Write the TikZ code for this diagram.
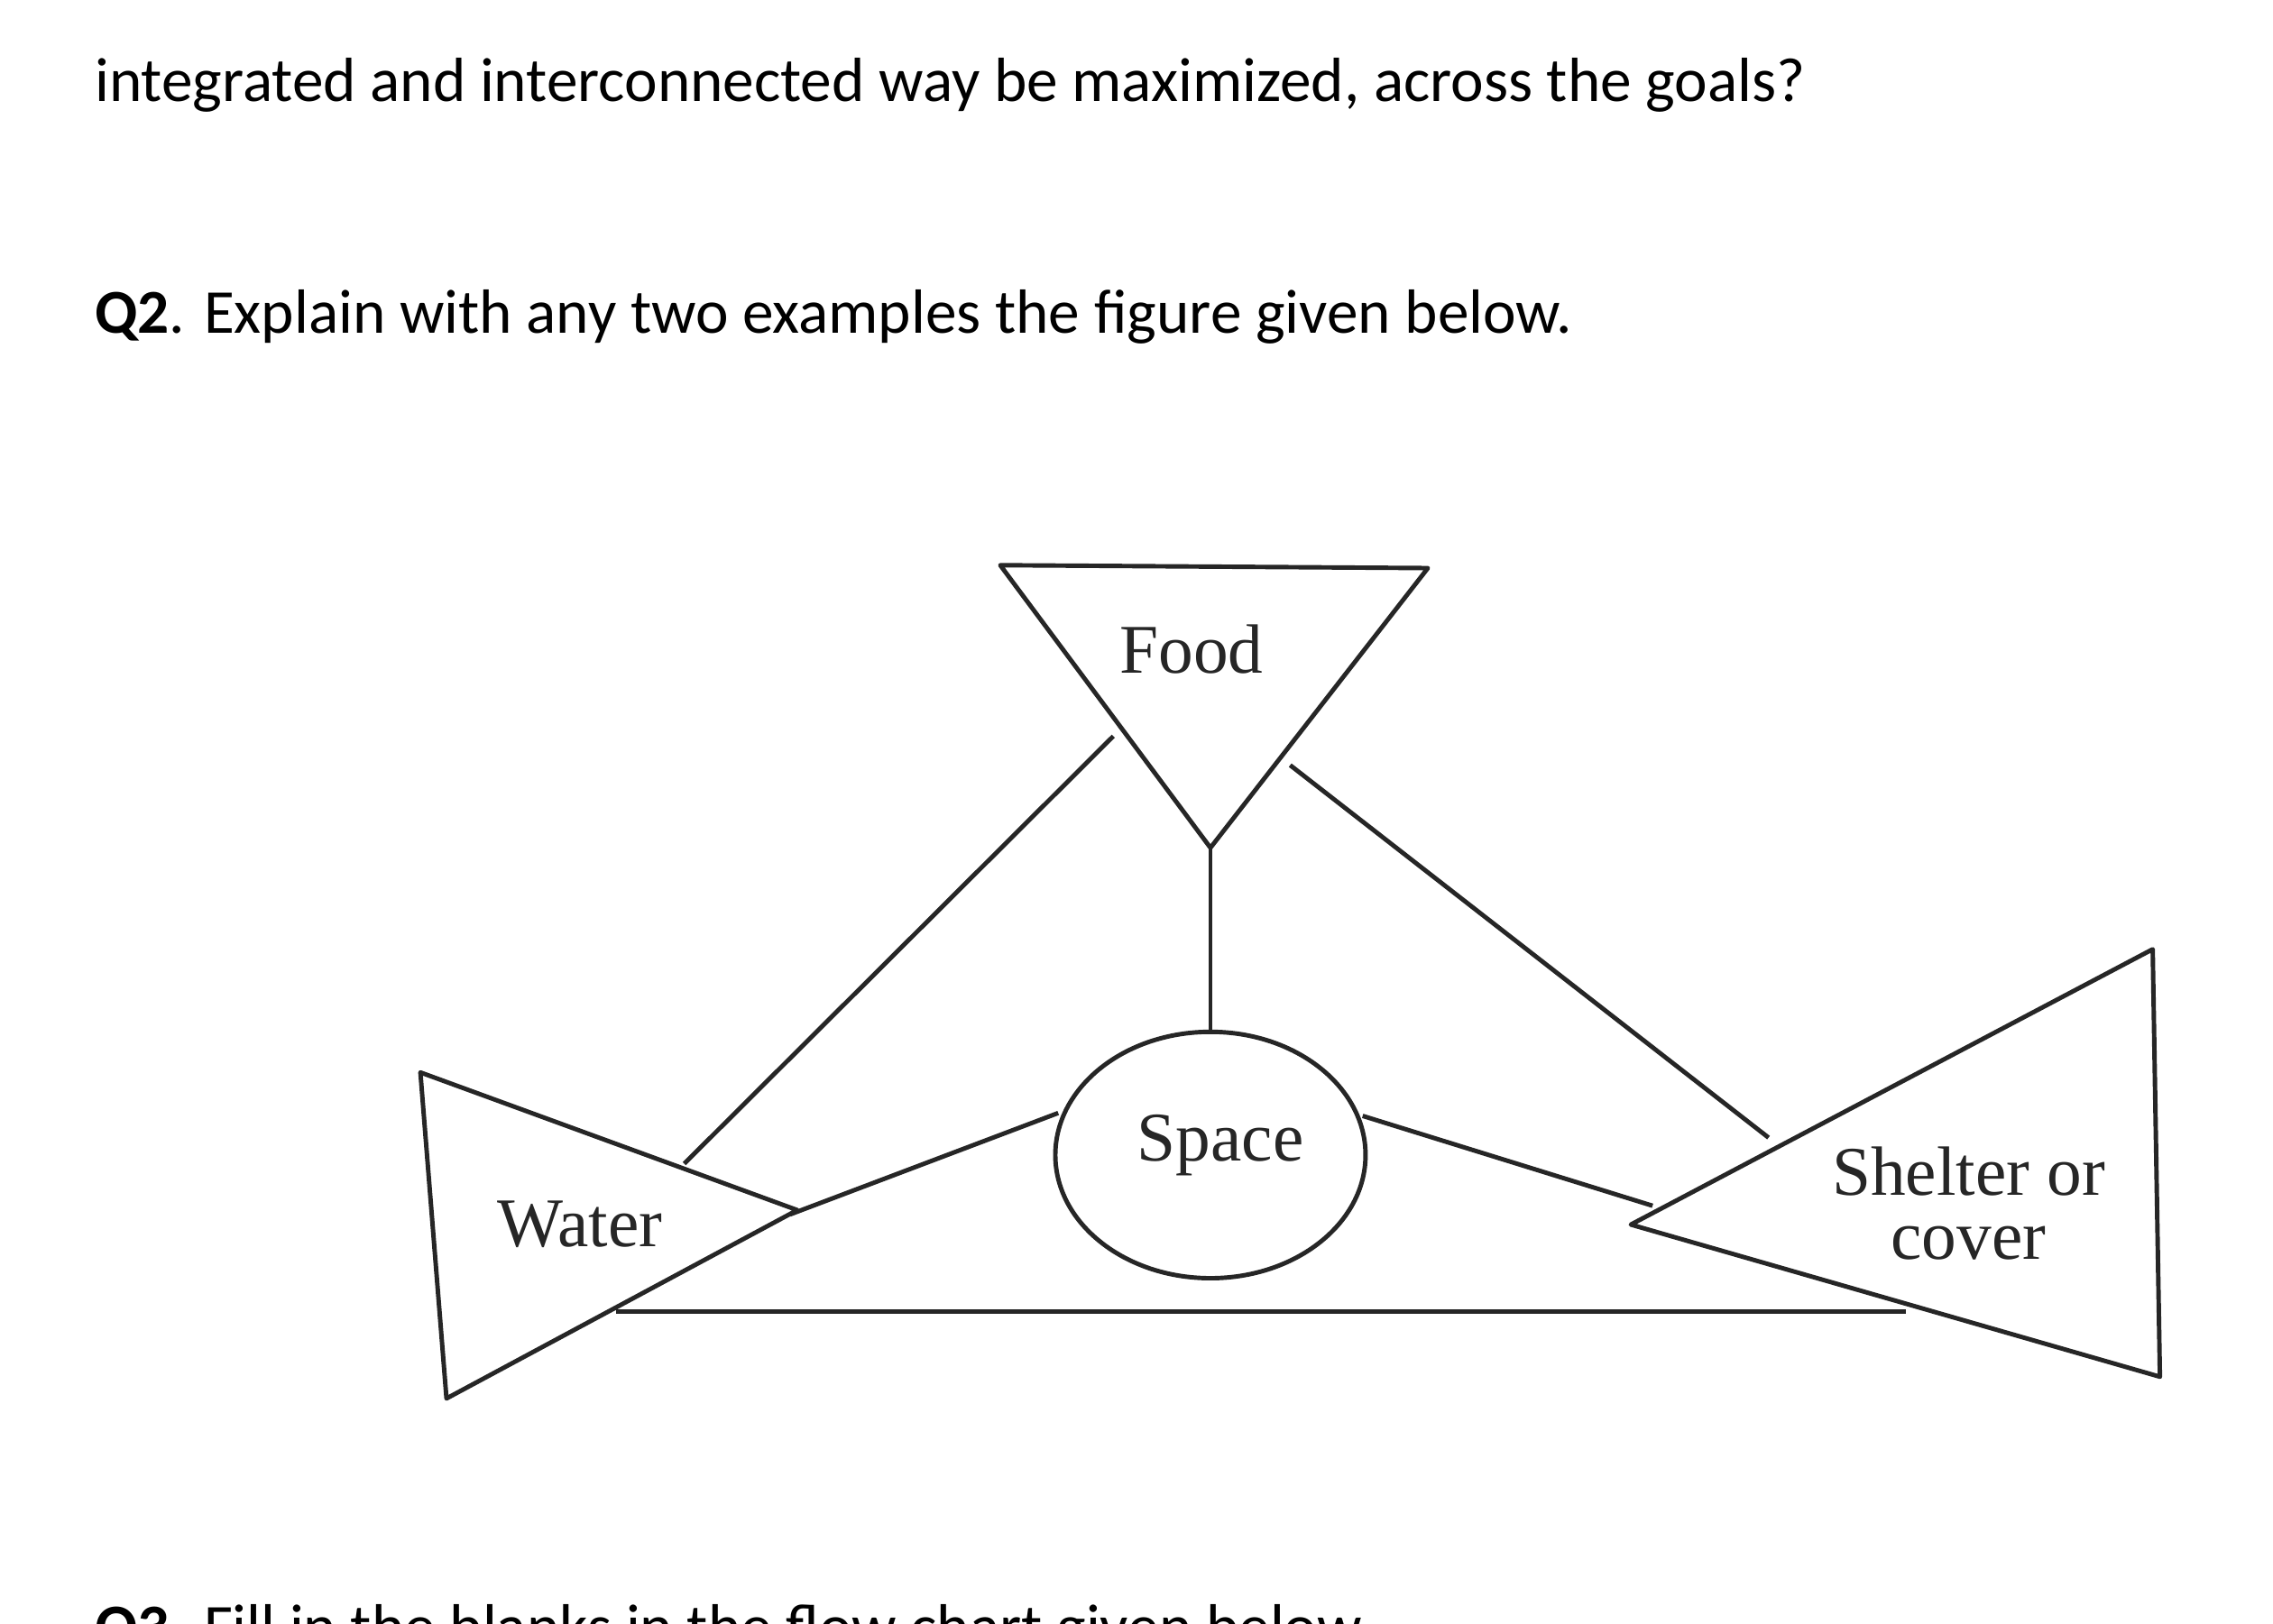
\documentclass[tikz,border=0pt]{standalone}
\usepackage{fontspec}
\setmainfont{Carlito}
\newfontfamily\dfont{Liberation Serif}
\begin{document}
\begin{tikzpicture}[x=0.01607cm,y=-0.01607cm,
  ln/.style={draw=black!85,line width=1.4pt,line join=round},
  lab/.style={font=\dfont\fontsize{22}{26}\selectfont,text=black!85,inner sep=0pt},
  body/.style={font=\fontsize{19.7}{23}\selectfont,anchor=base west,inner sep=0pt}]
\useasboundingbox[fill=white] (0,0) rectangle (1568,1120);
\node[body] (t1) at (65,70) {integrated and interconnected way be maximized, across the goals?};
\node[body] (t2) at (65,230) {\textbf{Q2}. Explain with any two examples the figure given below.};
\node[body] (t3) at (65,1137) {\textbf{Q3}. Fill in the blanks in the flow chart given below.};
% Food
\coordinate (f1) at (690,390); \coordinate (f2) at (985,392); \coordinate (f3) at (835,585);
\draw[ln] (f1)--(f2)--(f3)--cycle;
\node[lab] (food) at (822,448) {Food};
% Space
\draw[ln] (835,797) ellipse [x radius=107,y radius=85];
\node[lab] (space) at (842,790) {Space};
% Water
\coordinate (w1) at (290,740); \coordinate (w2) at (550,835); \coordinate (w3) at (308,965);
\draw[ln] (w1)--(w2)--(w3)--cycle;
\node[lab] (water) at (400,845) {Water};
% Shelter
\coordinate (s1) at (1485,655); \coordinate (s2) at (1490,950); \coordinate (s3) at (1125,845);
\draw[ln] (s1)--(s2)--(s3)--cycle;
\node[lab] (shel1) at (1358,808) {Shelter or};
\node[lab] (shel2) at (1358,858) {cover};
% connectors
\coordinate (a1) at (768,508); \coordinate (a2) at (472,803);
\coordinate (b1) at (890,528); \coordinate (b2) at (1220,785);
\coordinate (c1) at (545,838); \coordinate (c2) at (730,768);
\coordinate (d1) at (940,770); \coordinate (d2) at (1140,832);
\coordinate (e1) at (425,905); \coordinate (e2) at (1315,905);
\coordinate (v1) at (835,712);
\draw[ln] (a1)--(a2); \draw[ln] (b1)--(b2); \draw[ln] (c1)--(c2);
\draw[ln] (d1)--(d2); \draw[ln] (e1)--(e2); \draw[ln] (f3)--(v1);
\end{tikzpicture}
\end{document}
